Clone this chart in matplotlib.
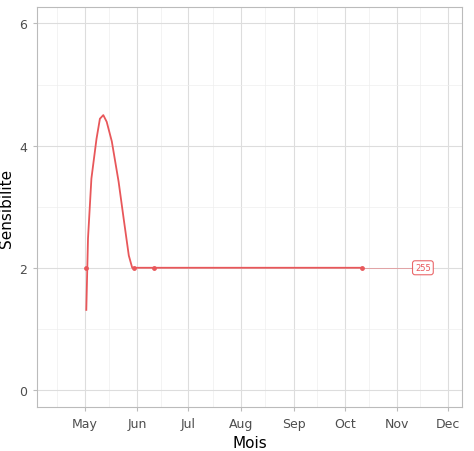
import matplotlib
matplotlib.use("Agg")
import matplotlib.pyplot as plt
import matplotlib.dates as mdates
import numpy as np
from datetime import date, timedelta

curve_day = [1.6, 2.9, 4.8, 7.2, 9.7, 11.2, 13.5, 16.5, 20.3, 23.3, 26.2, 28.5, 31, 41, 163]
curve_val = [1.31, 2.48, 3.46, 4.11, 4.44, 4.5, 4.39, 4.07, 3.41, 2.8, 2.2, 2.0, 2.0, 2.0, 2.0]
point_day = [1.6, 29, 41, 163]
point_val = [2, 2, 2, 2]
label_text = "255"
label_day = 199

base = date(2023, 5, 1)
to_d = lambda ds: [mdates.date2num(base + timedelta(days=float(d))) for d in ds]

fig = plt.figure(figsize=(4.74, 4.52), dpi=100)
ax = fig.add_axes([37/474, 44/452, 425/474, 400/452])
red = "#F8766D"
red = "#E8575A"
ax.plot(to_d(curve_day), curve_val, color=red, lw=1.3, zorder=3)
ax.scatter(to_d(point_day), point_val, color=red, s=6, zorder=4)
ax.plot(to_d([point_day[-1], label_day]), [2, 2], color=red, lw=0.5, alpha=0.6, zorder=2)
ax.text(to_d([label_day])[0], 2, label_text, color=red, fontsize=6, ha="center", va="center",
        bbox=dict(boxstyle="round,pad=0.3", fc="white", ec=red, lw=0.8, alpha=0.9), zorder=5)

ax.set_xlim(to_d([-28])[0], to_d([222])[0])
ax.set_ylim(-0.28, 6.27)
months = [date(2023, m, 1) for m in range(5, 13)]
ax.set_xticks([mdates.date2num(m) for m in months])
ax.set_xticklabels(["May", "Jun", "Jul", "Aug", "Sep", "Oct", "Nov", "Dec"])
ax.set_xticks([mdates.date2num(date(2023, 4, 15)) + 30.5 * i for i in range(8)], minor=True)
ax.set_yticks([0, 2, 4, 6])
ax.set_yticks([1, 3, 5], minor=True)
ax.grid(True, which="major", color="#DDDDDD", lw=0.8)
ax.grid(True, which="minor", color="#EEEEEE", lw=0.5)
ax.set_axisbelow(True)
for s in ax.spines.values():
    s.set_color("#BBBBBB")
ax.tick_params(which="both", length=0, labelsize=9, colors="#4D4D4D", pad=4)
ax.tick_params(which="major", length=3, color="#BBBBBB")
ax.tick_params(which="minor", length=0)
ax.set_xlabel("Mois", fontsize=11)
ax.set_ylabel("Sensibilite", fontsize=11)
fig.savefig("out.png", dpi=100)
